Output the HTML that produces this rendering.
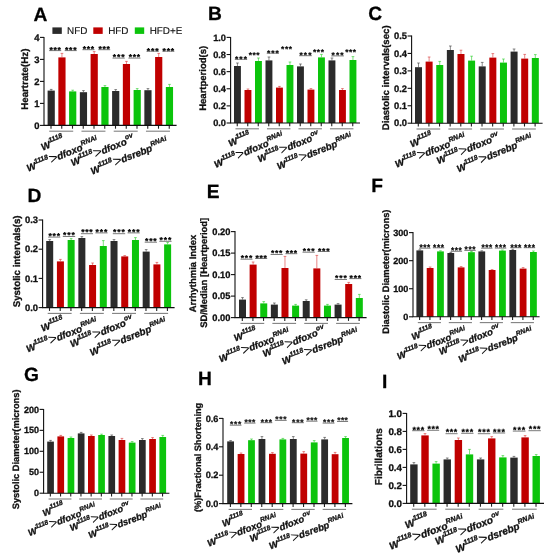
<!DOCTYPE html>
<html lang="en"><head><meta charset="utf-8"><title>Figure</title><style>
html,body{margin:0;padding:0;background:#fff;}
body{width:550px;height:559px;overflow:hidden;}
svg{display:block;font-family:"Liberation Sans",Arial,sans-serif;text-rendering:geometricPrecision;}
.tk,.yl,.xl,.pl{stroke:#111;stroke-width:0.3px;stroke-linejoin:round;}
.pl{font-size:19.2px;font-weight:bold;fill:#000;}
.lt{font-size:9.9px;fill:#111;stroke:#111;stroke-width:0.15px;}
.tk{font-weight:bold;fill:#111;text-anchor:end;}
.sg{font-weight:bold;fill:#000;stroke:#000;stroke-width:0.2px;text-anchor:middle;}
.yl{font-weight:bold;fill:#111;}
.xl{font-weight:bold;font-style:italic;fill:#111;}
.gt{font-style:italic;font-weight:normal;stroke:none;}
</style></head><body>
<svg width="550" height="559" viewBox="0 0 550 559">
<rect width="550" height="559" fill="#fff"/>
<g class="lg">
<rect x="52.4" y="27.4" width="9.4" height="6.5" fill="#2b2b2b"/>
<text x="67" y="34.1" class="lt">NFD</text>
<rect x="93.3" y="27.4" width="9.4" height="6.5" fill="#c00000"/>
<text x="108.2" y="34.1" class="lt">HFD</text>
<rect x="134.8" y="27.4" width="9.4" height="6.5" fill="#0cc40c"/>
<text x="149.7" y="34.1" class="lt">HFD+E</text>
</g>
<g id="pA">
<text class="pl" x="33.4" y="21.2">A</text>
<rect x="47.6" y="90.6" width="7.2" height="34.8" fill="#2b2b2b"/>
<path d="M51.2 90.6V89.4M49.85 89.4H52.55" stroke="#3a3a3a" stroke-width="0.6" fill="none"/>
<path d="M51 125.4v3.3" stroke="#222" stroke-width="1.1"/>
<rect x="58.35" y="57.4" width="7.2" height="68" fill="#c00000"/>
<path d="M61.95 57.4V53.4M60.6 53.4H63.3" stroke="#d63434" stroke-width="0.6" fill="none"/>
<path d="M61.75 125.4v3.3" stroke="#222" stroke-width="1.1"/>
<rect x="69.1" y="91.4" width="7.2" height="34" fill="#0cc40c"/>
<path d="M72.7 91.4V90.2M71.35 90.2H74.05" stroke="#22cc22" stroke-width="0.6" fill="none"/>
<path d="M72.5 125.4v3.3" stroke="#222" stroke-width="1.1"/>
<rect x="79.85" y="92.2" width="7.2" height="33.2" fill="#2b2b2b"/>
<path d="M83.45 92.2V90.6M82.1 90.6H84.8" stroke="#3a3a3a" stroke-width="0.6" fill="none"/>
<path d="M83.25 125.4v3.3" stroke="#222" stroke-width="1.1"/>
<rect x="90.6" y="54" width="7.2" height="71.4" fill="#c00000"/>
<path d="M94.2 54V51.6M92.85 51.6H95.55" stroke="#d63434" stroke-width="0.6" fill="none"/>
<path d="M94 125.4v3.3" stroke="#222" stroke-width="1.1"/>
<rect x="101.35" y="87" width="7.2" height="38.4" fill="#0cc40c"/>
<path d="M104.95 87V85.6M103.6 85.6H106.3" stroke="#22cc22" stroke-width="0.6" fill="none"/>
<path d="M104.75 125.4v3.3" stroke="#222" stroke-width="1.1"/>
<rect x="112.1" y="91" width="7.2" height="34.4" fill="#2b2b2b"/>
<path d="M115.7 91V89.6M114.35 89.6H117.05" stroke="#3a3a3a" stroke-width="0.6" fill="none"/>
<path d="M115.5 125.4v3.3" stroke="#222" stroke-width="1.1"/>
<rect x="122.85" y="64" width="7.2" height="61.4" fill="#c00000"/>
<path d="M126.45 64V61.4M125.1 61.4H127.8" stroke="#d63434" stroke-width="0.6" fill="none"/>
<path d="M126.25 125.4v3.3" stroke="#222" stroke-width="1.1"/>
<rect x="133.6" y="90" width="7.2" height="35.4" fill="#0cc40c"/>
<path d="M137.2 90V88.6M135.85 88.6H138.55" stroke="#22cc22" stroke-width="0.6" fill="none"/>
<path d="M137 125.4v3.3" stroke="#222" stroke-width="1.1"/>
<rect x="144.35" y="90.2" width="7.2" height="35.2" fill="#2b2b2b"/>
<path d="M147.95 90.2V88.6M146.6 88.6H149.3" stroke="#3a3a3a" stroke-width="0.6" fill="none"/>
<path d="M147.75 125.4v3.3" stroke="#222" stroke-width="1.1"/>
<rect x="155.1" y="57" width="7.2" height="68.4" fill="#c00000"/>
<path d="M158.7 57V53.4M157.35 53.4H160.05" stroke="#d63434" stroke-width="0.6" fill="none"/>
<path d="M158.5 125.4v3.3" stroke="#222" stroke-width="1.1"/>
<rect x="165.85" y="87" width="7.2" height="38.4" fill="#0cc40c"/>
<path d="M169.45 87V84.4M168.1 84.4H170.8" stroke="#22cc22" stroke-width="0.6" fill="none"/>
<path d="M169.25 125.4v3.3" stroke="#222" stroke-width="1.1"/>
<path d="M49.2 131.2H73.2" stroke="#808080" stroke-width="1.1"/>
<path d="M81.45 131.2H105.45" stroke="#808080" stroke-width="1.1"/>
<path d="M113.7 131.2H137.7" stroke="#808080" stroke-width="1.1"/>
<path d="M145.95 131.2H169.95" stroke="#808080" stroke-width="1.1"/>
<path d="M44 36.9V125.4H176.6" stroke="#111" stroke-width="1.1" fill="none"/>
<path d="M40 125.4H44" stroke="#111" stroke-width="1.1"/>
<text class="tk" font-size="9.45" x="39.4" y="128.7">0</text>
<path d="M40 103.4H44" stroke="#111" stroke-width="1.1"/>
<text class="tk" font-size="9.45" x="39.4" y="106.7">1</text>
<path d="M40 81.4H44" stroke="#111" stroke-width="1.1"/>
<text class="tk" font-size="9.45" x="39.4" y="84.7">2</text>
<path d="M40 59.4H44" stroke="#111" stroke-width="1.1"/>
<text class="tk" font-size="9.45" x="39.4" y="62.7">3</text>
<path d="M40 37.4H44" stroke="#111" stroke-width="1.1"/>
<text class="tk" font-size="9.45" x="39.4" y="40.7">4</text>
<text class="sg" font-size="8.6" x="55.15" y="53.1" textLength="11.5">***</text>
<path d="M49.1 50.6H61.2" stroke="#333" stroke-width="0.65"/>
<text class="sg" font-size="8.6" x="70.75" y="53.1" textLength="11.5">***</text>
<path d="M64.7 50.6H76.8" stroke="#333" stroke-width="0.65"/>
<text class="sg" font-size="8.6" x="88.45" y="52.1" textLength="11.5">***</text>
<path d="M82.4 49.7H94.5" stroke="#333" stroke-width="0.65"/>
<text class="sg" font-size="8.6" x="104.25" y="52.1" textLength="11.3">***</text>
<path d="M98.3 49.7H110.2" stroke="#333" stroke-width="0.65"/>
<text class="sg" font-size="8.6" x="118.65" y="60.4" textLength="11.7">***</text>
<path d="M112.5 58.1H124.8" stroke="#333" stroke-width="0.65"/>
<text class="sg" font-size="8.6" x="134.45" y="60.4" textLength="11.5">***</text>
<path d="M128.4 58.1H140.5" stroke="#333" stroke-width="0.65"/>
<text class="sg" font-size="8.6" x="152.65" y="53.7" textLength="11.9">***</text>
<path d="M146.4 51.2H158.9" stroke="#333" stroke-width="0.65"/>
<text class="sg" font-size="8.6" x="168.35" y="53.7" textLength="11.5">***</text>
<path d="M162.3 51.2H174.4" stroke="#333" stroke-width="0.65"/>
<text class="yl" font-size="9.75" transform="translate(27.9 79.2) rotate(-90)" text-anchor="middle">Heartrate(Hz)</text>
<text class="xl" font-size="9.83" transform="translate(64.6 141.6) rotate(-23)" text-anchor="end">W<tspan font-size="6.93" dy="-4.75">1118</tspan></text>
<text class="xl" font-size="9.83" transform="translate(99.1 143.9) rotate(-21.5)" text-anchor="end">W<tspan font-size="6.93" dy="-4.75">1118</tspan><tspan class="gt" font-size="14.72" dx="0.28" dy="5.95">&gt;</tspan><tspan dy="-1.2">dfoxo</tspan><tspan font-size="6.93" dy="-4.75">RNAi</tspan></text>
<text class="xl" font-size="9.83" transform="translate(135 141.1) rotate(-22)" text-anchor="end">W<tspan font-size="6.93" dy="-4.75">1118</tspan><tspan class="gt" font-size="14.72" dx="0.28" dy="5.95">&gt;</tspan><tspan dy="-1.2">dfoxo</tspan><tspan font-size="6.93" dy="-4.75">ov</tspan></text>
<text class="xl" font-size="9.83" transform="translate(168.7 144.6) rotate(-21.5)" text-anchor="end">W<tspan font-size="6.93" dy="-4.75">1118</tspan><tspan class="gt" font-size="14.72" dx="0.28" dy="5.95">&gt;</tspan><tspan dy="-1.2">dsrebp</tspan><tspan font-size="6.93" dy="-4.75">RNAi</tspan></text>
</g>
<g id="pB">
<text class="pl" x="207.9" y="20.4">B</text>
<rect x="234" y="66" width="6.9" height="57" fill="#2b2b2b"/>
<path d="M237.45 66V63M236.1 63H238.8" stroke="#3a3a3a" stroke-width="0.6" fill="none"/>
<path d="M237.25 123v3.3" stroke="#222" stroke-width="1.1"/>
<rect x="244.5" y="90" width="6.9" height="33" fill="#c00000"/>
<path d="M247.95 90V89M246.6 89H249.3" stroke="#d63434" stroke-width="0.6" fill="none"/>
<path d="M247.75 123v3.3" stroke="#222" stroke-width="1.1"/>
<rect x="255" y="61" width="6.9" height="62" fill="#0cc40c"/>
<path d="M258.45 61V58M257.1 58H259.8" stroke="#22cc22" stroke-width="0.6" fill="none"/>
<path d="M258.25 123v3.3" stroke="#222" stroke-width="1.1"/>
<rect x="265.5" y="60.4" width="6.9" height="62.6" fill="#2b2b2b"/>
<path d="M268.95 60.4V57M267.6 57H270.3" stroke="#3a3a3a" stroke-width="0.6" fill="none"/>
<path d="M268.75 123v3.3" stroke="#222" stroke-width="1.1"/>
<rect x="276" y="87.6" width="6.9" height="35.4" fill="#c00000"/>
<path d="M279.45 87.6V86.4M278.1 86.4H280.8" stroke="#d63434" stroke-width="0.6" fill="none"/>
<path d="M279.25 123v3.3" stroke="#222" stroke-width="1.1"/>
<rect x="286.5" y="65" width="6.9" height="58" fill="#0cc40c"/>
<path d="M289.95 65V62M288.6 62H291.3" stroke="#22cc22" stroke-width="0.6" fill="none"/>
<path d="M289.75 123v3.3" stroke="#222" stroke-width="1.1"/>
<rect x="297" y="66.4" width="6.9" height="56.6" fill="#2b2b2b"/>
<path d="M300.45 66.4V64M299.1 64H301.8" stroke="#3a3a3a" stroke-width="0.6" fill="none"/>
<path d="M300.25 123v3.3" stroke="#222" stroke-width="1.1"/>
<rect x="307.5" y="89.6" width="6.9" height="33.4" fill="#c00000"/>
<path d="M310.95 89.6V88.6M309.6 88.6H312.3" stroke="#d63434" stroke-width="0.6" fill="none"/>
<path d="M310.75 123v3.3" stroke="#222" stroke-width="1.1"/>
<rect x="318" y="57.4" width="6.9" height="65.6" fill="#0cc40c"/>
<path d="M321.45 57.4V54.4M320.1 54.4H322.8" stroke="#22cc22" stroke-width="0.6" fill="none"/>
<path d="M321.25 123v3.3" stroke="#222" stroke-width="1.1"/>
<rect x="328.5" y="60.4" width="6.9" height="62.6" fill="#2b2b2b"/>
<path d="M331.95 60.4V58M330.6 58H333.3" stroke="#3a3a3a" stroke-width="0.6" fill="none"/>
<path d="M331.75 123v3.3" stroke="#222" stroke-width="1.1"/>
<rect x="339" y="90" width="6.9" height="33" fill="#c00000"/>
<path d="M342.45 90V88.6M341.1 88.6H343.8" stroke="#d63434" stroke-width="0.6" fill="none"/>
<path d="M342.25 123v3.3" stroke="#222" stroke-width="1.1"/>
<rect x="349.5" y="60" width="6.9" height="63" fill="#0cc40c"/>
<path d="M352.95 60V56.6M351.6 56.6H354.3" stroke="#22cc22" stroke-width="0.6" fill="none"/>
<path d="M352.75 123v3.3" stroke="#222" stroke-width="1.1"/>
<path d="M235.45 128.8H258.95" stroke="#808080" stroke-width="1.1"/>
<path d="M266.95 128.8H290.45" stroke="#808080" stroke-width="1.1"/>
<path d="M298.45 128.8H321.95" stroke="#808080" stroke-width="1.1"/>
<path d="M329.95 128.8H353.45" stroke="#808080" stroke-width="1.1"/>
<path d="M230.6 36.9V123H360" stroke="#111" stroke-width="1.1" fill="none"/>
<path d="M226.6 123H230.6" stroke="#111" stroke-width="1.1"/>
<text class="tk" font-size="9.23" x="226" y="126.22">0.0</text>
<path d="M226.6 105.88H230.6" stroke="#111" stroke-width="1.1"/>
<text class="tk" font-size="9.23" x="226" y="109.1">0.2</text>
<path d="M226.6 88.76H230.6" stroke="#111" stroke-width="1.1"/>
<text class="tk" font-size="9.23" x="226" y="91.98">0.4</text>
<path d="M226.6 71.64H230.6" stroke="#111" stroke-width="1.1"/>
<text class="tk" font-size="9.23" x="226" y="74.86">0.6</text>
<path d="M226.6 54.52H230.6" stroke="#111" stroke-width="1.1"/>
<text class="tk" font-size="9.23" x="226" y="57.74">0.8</text>
<path d="M226.6 37.4H230.6" stroke="#111" stroke-width="1.1"/>
<text class="tk" font-size="9.23" x="226" y="40.62">1.0</text>
<text class="sg" font-size="8.4" x="241" y="61.6" textLength="11.8">***</text>
<path d="M234.8 59.3H247.2" stroke="#333" stroke-width="0.65"/>
<text class="sg" font-size="8.4" x="254.2" y="58" textLength="10.8">***</text>
<text class="sg" font-size="8.4" x="272.85" y="55.5" textLength="11.7">***</text>
<path d="M266.7 53.2H279" stroke="#333" stroke-width="0.65"/>
<text class="sg" font-size="8.4" x="286.55" y="52.3" textLength="11.1">***</text>
<text class="sg" font-size="8.4" x="305.45" y="57.8" textLength="12.1">***</text>
<path d="M299.1 55.7H311.8" stroke="#333" stroke-width="0.65"/>
<text class="sg" font-size="8.4" x="318.45" y="54.8" textLength="10.9">***</text>
<text class="sg" font-size="8.4" x="337.55" y="57.8" textLength="12.1">***</text>
<path d="M331.2 55.9H343.9" stroke="#333" stroke-width="0.65"/>
<text class="sg" font-size="8.4" x="350.65" y="55.2" textLength="10.9">***</text>
<text class="yl" font-size="9.52" transform="translate(205.7 78.3) rotate(-90)" text-anchor="middle">Heartperiod(s)</text>
<text class="xl" font-size="9.6" transform="translate(251.3 138) rotate(-22.5)" text-anchor="end">W<tspan font-size="6.77" dy="-4.64">1118</tspan></text>
<text class="xl" font-size="9.6" transform="translate(284.6 139.4) rotate(-22.5)" text-anchor="end">W<tspan font-size="6.77" dy="-4.64">1118</tspan><tspan class="gt" font-size="14.38" dx="0.28" dy="5.84">&gt;</tspan><tspan dy="-1.2">dfoxo</tspan><tspan font-size="6.77" dy="-4.64">RNAi</tspan></text>
<text class="xl" font-size="9.6" transform="translate(320.2 137.8) rotate(-22)" text-anchor="end">W<tspan font-size="6.77" dy="-4.64">1118</tspan><tspan class="gt" font-size="14.38" dx="0.28" dy="5.84">&gt;</tspan><tspan dy="-1.2">dfoxo</tspan><tspan font-size="6.77" dy="-4.64">ov</tspan></text>
<text class="xl" font-size="9.6" transform="translate(353.3 140.4) rotate(-21.5)" text-anchor="end">W<tspan font-size="6.77" dy="-4.64">1118</tspan><tspan class="gt" font-size="14.38" dx="0.28" dy="5.84">&gt;</tspan><tspan dy="-1.2">dsrebp</tspan><tspan font-size="6.77" dy="-4.64">RNAi</tspan></text>
</g>
<g id="pC">
<text class="pl" x="368.3" y="19.5">C</text>
<rect x="415" y="67.2" width="7" height="56" fill="#2b2b2b"/>
<path d="M418.5 67.2V63M417.15 63H419.85" stroke="#3a3a3a" stroke-width="0.6" fill="none"/>
<path d="M418.3 123.2v3.3" stroke="#222" stroke-width="1.1"/>
<rect x="425.62" y="61.6" width="7" height="61.6" fill="#c00000"/>
<path d="M429.12 61.6V57M427.77 57H430.47" stroke="#d63434" stroke-width="0.6" fill="none"/>
<path d="M428.92 123.2v3.3" stroke="#222" stroke-width="1.1"/>
<rect x="436.24" y="65" width="7" height="58.2" fill="#0cc40c"/>
<path d="M439.74 65V61.4M438.39 61.4H441.09" stroke="#22cc22" stroke-width="0.6" fill="none"/>
<path d="M439.54 123.2v3.3" stroke="#222" stroke-width="1.1"/>
<rect x="446.86" y="50" width="7" height="73.2" fill="#2b2b2b"/>
<path d="M450.36 50V46M449.01 46H451.71" stroke="#3a3a3a" stroke-width="0.6" fill="none"/>
<path d="M450.16 123.2v3.3" stroke="#222" stroke-width="1.1"/>
<rect x="457.48" y="54" width="7" height="69.2" fill="#c00000"/>
<path d="M460.98 54V50.2M459.63 50.2H462.33" stroke="#d63434" stroke-width="0.6" fill="none"/>
<path d="M460.78 123.2v3.3" stroke="#222" stroke-width="1.1"/>
<rect x="468.1" y="60.6" width="7" height="62.6" fill="#0cc40c"/>
<path d="M471.6 60.6V56.2M470.25 56.2H472.95" stroke="#22cc22" stroke-width="0.6" fill="none"/>
<path d="M471.4 123.2v3.3" stroke="#222" stroke-width="1.1"/>
<rect x="478.72" y="66.4" width="7" height="56.8" fill="#2b2b2b"/>
<path d="M482.22 66.4V62.4M480.87 62.4H483.57" stroke="#3a3a3a" stroke-width="0.6" fill="none"/>
<path d="M482.02 123.2v3.3" stroke="#222" stroke-width="1.1"/>
<rect x="489.34" y="57.6" width="7" height="65.6" fill="#c00000"/>
<path d="M492.84 57.6V53.6M491.49 53.6H494.19" stroke="#d63434" stroke-width="0.6" fill="none"/>
<path d="M492.64 123.2v3.3" stroke="#222" stroke-width="1.1"/>
<rect x="499.96" y="62.6" width="7" height="60.6" fill="#0cc40c"/>
<path d="M503.46 62.6V59M502.11 59H504.81" stroke="#22cc22" stroke-width="0.6" fill="none"/>
<path d="M503.26 123.2v3.3" stroke="#222" stroke-width="1.1"/>
<rect x="510.58" y="51.6" width="7" height="71.6" fill="#2b2b2b"/>
<path d="M514.08 51.6V49M512.73 49H515.43" stroke="#3a3a3a" stroke-width="0.6" fill="none"/>
<path d="M513.88 123.2v3.3" stroke="#222" stroke-width="1.1"/>
<rect x="521.2" y="58.6" width="7" height="64.6" fill="#c00000"/>
<path d="M524.7 58.6V54.4M523.35 54.4H526.05" stroke="#d63434" stroke-width="0.6" fill="none"/>
<path d="M524.5 123.2v3.3" stroke="#222" stroke-width="1.1"/>
<rect x="531.82" y="58" width="7" height="65.2" fill="#0cc40c"/>
<path d="M535.32 58V54.6M533.97 54.6H536.67" stroke="#22cc22" stroke-width="0.6" fill="none"/>
<path d="M535.12 123.2v3.3" stroke="#222" stroke-width="1.1"/>
<path d="M416.5 129H440.24" stroke="#808080" stroke-width="1.1"/>
<path d="M448.36 129H472.1" stroke="#808080" stroke-width="1.1"/>
<path d="M480.22 129H503.96" stroke="#808080" stroke-width="1.1"/>
<path d="M512.08 129H535.82" stroke="#808080" stroke-width="1.1"/>
<path d="M411.6 35.5V123.2H542.6" stroke="#111" stroke-width="1.1" fill="none"/>
<path d="M407.6 123.2H411.6" stroke="#111" stroke-width="1.1"/>
<text class="tk" font-size="9.34" x="407" y="126.46">0.0</text>
<path d="M407.6 105.76H411.6" stroke="#111" stroke-width="1.1"/>
<text class="tk" font-size="9.34" x="407" y="109.02">0.1</text>
<path d="M407.6 88.32H411.6" stroke="#111" stroke-width="1.1"/>
<text class="tk" font-size="9.34" x="407" y="91.58">0.2</text>
<path d="M407.6 70.88H411.6" stroke="#111" stroke-width="1.1"/>
<text class="tk" font-size="9.34" x="407" y="74.14">0.3</text>
<path d="M407.6 53.44H411.6" stroke="#111" stroke-width="1.1"/>
<text class="tk" font-size="9.34" x="407" y="56.7">0.4</text>
<path d="M407.6 36H411.6" stroke="#111" stroke-width="1.1"/>
<text class="tk" font-size="9.34" x="407" y="39.26">0.5</text>
<text class="yl" font-size="9.63" transform="translate(388.6 77.8) rotate(-90)" text-anchor="middle">Diastolic intervals(sec)</text>
<text class="xl" font-size="9.71" transform="translate(433.3 138.6) rotate(-22.5)" text-anchor="end">W<tspan font-size="6.85" dy="-4.69">1118</tspan></text>
<text class="xl" font-size="9.71" transform="translate(466.7 140.7) rotate(-21)" text-anchor="end">W<tspan font-size="6.85" dy="-4.69">1118</tspan><tspan class="gt" font-size="14.55" dx="0.28" dy="5.89">&gt;</tspan><tspan dy="-1.2">dfoxo</tspan><tspan font-size="6.85" dy="-4.69">RNAi</tspan></text>
<text class="xl" font-size="9.71" transform="translate(500.1 139.3) rotate(-22)" text-anchor="end">W<tspan font-size="6.85" dy="-4.69">1118</tspan><tspan class="gt" font-size="14.55" dx="0.28" dy="5.89">&gt;</tspan><tspan dy="-1.2">dfoxo</tspan><tspan font-size="6.85" dy="-4.69">ov</tspan></text>
<text class="xl" font-size="9.71" transform="translate(533.5 141.3) rotate(-22.5)" text-anchor="end">W<tspan font-size="6.85" dy="-4.69">1118</tspan><tspan class="gt" font-size="14.55" dx="0.28" dy="5.89">&gt;</tspan><tspan dy="-1.2">dsrebp</tspan><tspan font-size="6.85" dy="-4.69">RNAi</tspan></text>
</g>
<g id="pD">
<text class="pl" x="27.5" y="201.7">D</text>
<rect x="46.2" y="241" width="7" height="66.6" fill="#2b2b2b"/>
<path d="M49.7 241V239.6M48.35 239.6H51.05" stroke="#3a3a3a" stroke-width="0.6" fill="none"/>
<path d="M49.5 307.6v3.3" stroke="#222" stroke-width="1.1"/>
<rect x="56.92" y="261.4" width="7" height="46.2" fill="#c00000"/>
<path d="M60.42 261.4V259.4M59.07 259.4H61.77" stroke="#d63434" stroke-width="0.6" fill="none"/>
<path d="M60.22 307.6v3.3" stroke="#222" stroke-width="1.1"/>
<rect x="67.64" y="240" width="7" height="67.6" fill="#0cc40c"/>
<path d="M71.14 240V238.6M69.79 238.6H72.49" stroke="#22cc22" stroke-width="0.6" fill="none"/>
<path d="M70.94 307.6v3.3" stroke="#222" stroke-width="1.1"/>
<rect x="78.36" y="238" width="7" height="69.6" fill="#2b2b2b"/>
<path d="M81.86 238V236.6M80.51 236.6H83.21" stroke="#3a3a3a" stroke-width="0.6" fill="none"/>
<path d="M81.66 307.6v3.3" stroke="#222" stroke-width="1.1"/>
<rect x="89.08" y="265" width="7" height="42.6" fill="#c00000"/>
<path d="M92.58 265V263M91.23 263H93.93" stroke="#d63434" stroke-width="0.6" fill="none"/>
<path d="M92.38 307.6v3.3" stroke="#222" stroke-width="1.1"/>
<rect x="99.8" y="246" width="7" height="61.6" fill="#0cc40c"/>
<path d="M103.3 246V240.6M101.95 240.6H104.65" stroke="#22cc22" stroke-width="0.6" fill="none"/>
<path d="M103.1 307.6v3.3" stroke="#222" stroke-width="1.1"/>
<rect x="110.52" y="241" width="7" height="66.6" fill="#2b2b2b"/>
<path d="M114.02 241V239.6M112.67 239.6H115.37" stroke="#3a3a3a" stroke-width="0.6" fill="none"/>
<path d="M113.82 307.6v3.3" stroke="#222" stroke-width="1.1"/>
<rect x="121.24" y="256.4" width="7" height="51.2" fill="#c00000"/>
<path d="M124.74 256.4V255.6M123.39 255.6H126.09" stroke="#d63434" stroke-width="0.6" fill="none"/>
<path d="M124.54 307.6v3.3" stroke="#222" stroke-width="1.1"/>
<rect x="131.96" y="240" width="7" height="67.6" fill="#0cc40c"/>
<path d="M135.46 240V237.6M134.11 237.6H136.81" stroke="#22cc22" stroke-width="0.6" fill="none"/>
<path d="M135.26 307.6v3.3" stroke="#222" stroke-width="1.1"/>
<rect x="142.68" y="251.6" width="7" height="56" fill="#2b2b2b"/>
<path d="M146.18 251.6V249.6M144.83 249.6H147.53" stroke="#3a3a3a" stroke-width="0.6" fill="none"/>
<path d="M145.98 307.6v3.3" stroke="#222" stroke-width="1.1"/>
<rect x="153.4" y="264.4" width="7" height="43.2" fill="#c00000"/>
<path d="M156.9 264.4V262.4M155.55 262.4H158.25" stroke="#d63434" stroke-width="0.6" fill="none"/>
<path d="M156.7 307.6v3.3" stroke="#222" stroke-width="1.1"/>
<rect x="164.12" y="244.4" width="7" height="63.2" fill="#0cc40c"/>
<path d="M167.62 244.4V242.4M166.27 242.4H168.97" stroke="#22cc22" stroke-width="0.6" fill="none"/>
<path d="M167.42 307.6v3.3" stroke="#222" stroke-width="1.1"/>
<path d="M47.7 313.4H71.64" stroke="#808080" stroke-width="1.1"/>
<path d="M79.86 313.4H103.8" stroke="#808080" stroke-width="1.1"/>
<path d="M112.02 313.4H135.96" stroke="#808080" stroke-width="1.1"/>
<path d="M144.18 313.4H168.12" stroke="#808080" stroke-width="1.1"/>
<path d="M42.6 219.5V307.6H174.6" stroke="#111" stroke-width="1.1" fill="none"/>
<path d="M38.6 307.6H42.6" stroke="#111" stroke-width="1.1"/>
<text class="tk" font-size="9.42" x="38" y="310.89">0.0</text>
<path d="M38.6 278.4H42.6" stroke="#111" stroke-width="1.1"/>
<text class="tk" font-size="9.42" x="38" y="281.69">0.1</text>
<path d="M38.6 249.2H42.6" stroke="#111" stroke-width="1.1"/>
<text class="tk" font-size="9.42" x="38" y="252.49">0.2</text>
<path d="M38.6 220H42.6" stroke="#111" stroke-width="1.1"/>
<text class="tk" font-size="9.42" x="38" y="223.29">0.3</text>
<text class="sg" font-size="8.58" x="54.2" y="238.99" textLength="11.6">***</text>
<path d="M48.1 237.1H60.3" stroke="#333" stroke-width="0.65"/>
<text class="sg" font-size="8.58" x="69" y="238.39" textLength="11.8">***</text>
<path d="M62.8 236.5H75.2" stroke="#333" stroke-width="0.65"/>
<text class="sg" font-size="8.58" x="86.95" y="235.49" textLength="11.5">***</text>
<path d="M80.9 233.7H93" stroke="#333" stroke-width="0.65"/>
<text class="sg" font-size="8.58" x="101.45" y="234.99" textLength="11.7">***</text>
<path d="M95.3 232.9H107.6" stroke="#333" stroke-width="0.65"/>
<text class="sg" font-size="8.58" x="119" y="235.49" textLength="11.8">***</text>
<path d="M112.8 233.7H125.2" stroke="#333" stroke-width="0.65"/>
<text class="sg" font-size="8.58" x="133.65" y="234.99" textLength="11.7">***</text>
<path d="M127.5 232.9H139.8" stroke="#333" stroke-width="0.65"/>
<text class="sg" font-size="8.58" x="150.85" y="244.09" textLength="11.7">***</text>
<path d="M144.7 242.2H157" stroke="#333" stroke-width="0.65"/>
<text class="sg" font-size="8.58" x="165.45" y="243.29" textLength="11.7">***</text>
<path d="M159.3 241.3H171.6" stroke="#333" stroke-width="0.65"/>
<text class="yl" font-size="9.72" transform="translate(19.6 261.4) rotate(-90)" text-anchor="middle">Systolic intervals(s)</text>
<text class="xl" font-size="9.81" transform="translate(64.5 323.3) rotate(-21)" text-anchor="end">W<tspan font-size="6.92" dy="-4.74">1118</tspan></text>
<text class="xl" font-size="9.81" transform="translate(98.6 325.3) rotate(-21)" text-anchor="end">W<tspan font-size="6.92" dy="-4.74">1118</tspan><tspan class="gt" font-size="14.68" dx="0.28" dy="5.94">&gt;</tspan><tspan dy="-1.2">dfoxo</tspan><tspan font-size="6.92" dy="-4.74">RNAi</tspan></text>
<text class="xl" font-size="9.81" transform="translate(134.1 322.4) rotate(-22)" text-anchor="end">W<tspan font-size="6.92" dy="-4.74">1118</tspan><tspan class="gt" font-size="14.68" dx="0.28" dy="5.94">&gt;</tspan><tspan dy="-1.2">dfoxo</tspan><tspan font-size="6.92" dy="-4.74">ov</tspan></text>
<text class="xl" font-size="9.81" transform="translate(167.6 325.2) rotate(-22)" text-anchor="end">W<tspan font-size="6.92" dy="-4.74">1118</tspan><tspan class="gt" font-size="14.68" dx="0.28" dy="5.94">&gt;</tspan><tspan dy="-1.2">dsrebp</tspan><tspan font-size="6.92" dy="-4.74">RNAi</tspan></text>
</g>
<g id="pE">
<text class="pl" x="206.8" y="197.9">E</text>
<rect x="239" y="299.6" width="7" height="18" fill="#2b2b2b"/>
<path d="M242.5 299.6V297.6M241.15 297.6H243.85" stroke="#3a3a3a" stroke-width="0.6" fill="none"/>
<path d="M242.3 317.6v3.3" stroke="#222" stroke-width="1.1"/>
<rect x="249.62" y="264.6" width="7" height="53" fill="#c00000"/>
<path d="M253.12 264.6V262M251.77 262H254.47" stroke="#d63434" stroke-width="0.6" fill="none"/>
<path d="M252.92 317.6v3.3" stroke="#222" stroke-width="1.1"/>
<rect x="260.24" y="303.4" width="7" height="14.2" fill="#0cc40c"/>
<path d="M263.74 303.4V301.6M262.39 301.6H265.09" stroke="#22cc22" stroke-width="0.6" fill="none"/>
<path d="M263.54 317.6v3.3" stroke="#222" stroke-width="1.1"/>
<rect x="270.86" y="304.6" width="7" height="13" fill="#2b2b2b"/>
<path d="M274.36 304.6V303M273.01 303H275.71" stroke="#3a3a3a" stroke-width="0.6" fill="none"/>
<path d="M274.16 317.6v3.3" stroke="#222" stroke-width="1.1"/>
<rect x="281.48" y="268" width="7" height="49.6" fill="#c00000"/>
<path d="M284.98 268V256.4M283.63 256.4H286.33" stroke="#d63434" stroke-width="0.6" fill="none"/>
<path d="M284.78 317.6v3.3" stroke="#222" stroke-width="1.1"/>
<rect x="292.1" y="305.6" width="7" height="12" fill="#0cc40c"/>
<path d="M295.6 305.6V304.4M294.25 304.4H296.95" stroke="#22cc22" stroke-width="0.6" fill="none"/>
<path d="M295.4 317.6v3.3" stroke="#222" stroke-width="1.1"/>
<rect x="302.72" y="301" width="7" height="16.6" fill="#2b2b2b"/>
<path d="M306.22 301V299.8M304.87 299.8H307.57" stroke="#3a3a3a" stroke-width="0.6" fill="none"/>
<path d="M306.02 317.6v3.3" stroke="#222" stroke-width="1.1"/>
<rect x="313.34" y="268.4" width="7" height="49.2" fill="#c00000"/>
<path d="M316.84 268.4V255.4M315.49 255.4H318.19" stroke="#d63434" stroke-width="0.6" fill="none"/>
<path d="M316.64 317.6v3.3" stroke="#222" stroke-width="1.1"/>
<rect x="323.96" y="305.6" width="7" height="12" fill="#0cc40c"/>
<path d="M327.46 305.6V304.4M326.11 304.4H328.81" stroke="#22cc22" stroke-width="0.6" fill="none"/>
<path d="M327.26 317.6v3.3" stroke="#222" stroke-width="1.1"/>
<rect x="334.58" y="304.6" width="7" height="13" fill="#2b2b2b"/>
<path d="M338.08 304.6V303.6M336.73 303.6H339.43" stroke="#3a3a3a" stroke-width="0.6" fill="none"/>
<path d="M337.88 317.6v3.3" stroke="#222" stroke-width="1.1"/>
<rect x="345.2" y="284" width="7" height="33.6" fill="#c00000"/>
<path d="M348.7 284V282.4M347.35 282.4H350.05" stroke="#d63434" stroke-width="0.6" fill="none"/>
<path d="M348.5 317.6v3.3" stroke="#222" stroke-width="1.1"/>
<rect x="355.82" y="298" width="7" height="19.6" fill="#0cc40c"/>
<path d="M359.32 298V294.4M357.97 294.4H360.67" stroke="#22cc22" stroke-width="0.6" fill="none"/>
<path d="M359.12 317.6v3.3" stroke="#222" stroke-width="1.1"/>
<path d="M240.5 323.4H264.24" stroke="#808080" stroke-width="1.1"/>
<path d="M272.36 323.4H296.1" stroke="#808080" stroke-width="1.1"/>
<path d="M304.22 323.4H327.96" stroke="#808080" stroke-width="1.1"/>
<path d="M336.08 323.4H359.82" stroke="#808080" stroke-width="1.1"/>
<path d="M235 231.1V317.6H366.6" stroke="#111" stroke-width="1.1" fill="none"/>
<path d="M231 317.6H235" stroke="#111" stroke-width="1.1"/>
<text class="tk" font-size="9.34" x="230.4" y="320.86">0.00</text>
<path d="M231 296.1H235" stroke="#111" stroke-width="1.1"/>
<text class="tk" font-size="9.34" x="230.4" y="299.36">0.05</text>
<path d="M231 274.6H235" stroke="#111" stroke-width="1.1"/>
<text class="tk" font-size="9.34" x="230.4" y="277.86">0.10</text>
<path d="M231 253.1H235" stroke="#111" stroke-width="1.1"/>
<text class="tk" font-size="9.34" x="230.4" y="256.36">0.15</text>
<path d="M231 231.6H235" stroke="#111" stroke-width="1.1"/>
<text class="tk" font-size="9.34" x="230.4" y="234.86">0.20</text>
<text class="sg" font-size="8.5" x="246.5" y="261.15" textLength="11.4">***</text>
<path d="M240.5 259.2H252.5" stroke="#333" stroke-width="0.65"/>
<text class="sg" font-size="8.5" x="261.15" y="260.85" textLength="11.5">***</text>
<path d="M255.1 258.5H267.2" stroke="#333" stroke-width="0.65"/>
<text class="sg" font-size="8.5" x="276.65" y="256.35" textLength="11.5">***</text>
<path d="M270.6 254.5H282.7" stroke="#333" stroke-width="0.65"/>
<text class="sg" font-size="8.5" x="291.35" y="255.95" textLength="11.3">***</text>
<path d="M285.4 253.7H297.3" stroke="#333" stroke-width="0.65"/>
<text class="sg" font-size="8.5" x="308.65" y="254.05" textLength="11.7">***</text>
<path d="M302.5 252.2H314.8" stroke="#333" stroke-width="0.65"/>
<text class="sg" font-size="8.5" x="323.75" y="253.65" textLength="11.5">***</text>
<path d="M317.7 251.5H329.8" stroke="#333" stroke-width="0.65"/>
<text class="sg" font-size="8.5" x="340.85" y="281.25" textLength="11.7">***</text>
<path d="M334.7 279.5H347" stroke="#333" stroke-width="0.65"/>
<text class="sg" font-size="8.5" x="355.35" y="280.75" textLength="11.5">***</text>
<path d="M349.3 278.6H361.4" stroke="#333" stroke-width="0.65"/>
<text class="yl" font-size="9.45" transform="translate(196.2 273.5) rotate(-90)" text-anchor="middle">Arrhythmia Index</text>
<text class="yl" font-size="9.45" transform="translate(207.1 272.8) rotate(-90)" text-anchor="middle">SD/Median [Heartperiod]</text>
<text class="xl" font-size="9.71" transform="translate(257.4 333.8) rotate(-19.5)" text-anchor="end">W<tspan font-size="6.85" dy="-4.69">1118</tspan></text>
<text class="xl" font-size="9.71" transform="translate(290.7 335.6) rotate(-21)" text-anchor="end">W<tspan font-size="6.85" dy="-4.69">1118</tspan><tspan class="gt" font-size="14.55" dx="0.28" dy="5.89">&gt;</tspan><tspan dy="-1.2">dfoxo</tspan><tspan font-size="6.85" dy="-4.69">RNAi</tspan></text>
<text class="xl" font-size="9.71" transform="translate(326 332.4) rotate(-22)" text-anchor="end">W<tspan font-size="6.85" dy="-4.69">1118</tspan><tspan class="gt" font-size="14.55" dx="0.28" dy="5.89">&gt;</tspan><tspan dy="-1.2">dfoxo</tspan><tspan font-size="6.85" dy="-4.69">ov</tspan></text>
<text class="xl" font-size="9.71" transform="translate(359.4 335.6) rotate(-21)" text-anchor="end">W<tspan font-size="6.85" dy="-4.69">1118</tspan><tspan class="gt" font-size="14.55" dx="0.28" dy="5.89">&gt;</tspan><tspan dy="-1.2">dsrebp</tspan><tspan font-size="6.85" dy="-4.69">RNAi</tspan></text>
</g>
<g id="pF">
<text class="pl" x="371.2" y="192.1">F</text>
<rect x="416.4" y="250.4" width="6.8" height="66.4" fill="#2b2b2b"/>
<path d="M419.8 250.4V249.8M418.45 249.8H421.15" stroke="#3a3a3a" stroke-width="0.6" fill="none"/>
<path d="M419.6 316.8v3.3" stroke="#222" stroke-width="1.1"/>
<rect x="426.73" y="268" width="6.8" height="48.8" fill="#c00000"/>
<path d="M430.13 268V267M428.78 267H431.48" stroke="#d63434" stroke-width="0.6" fill="none"/>
<path d="M429.93 316.8v3.3" stroke="#222" stroke-width="1.1"/>
<rect x="437.06" y="251.4" width="6.8" height="65.4" fill="#0cc40c"/>
<path d="M440.46 251.4V250.8M439.11 250.8H441.81" stroke="#22cc22" stroke-width="0.6" fill="none"/>
<path d="M440.26 316.8v3.3" stroke="#222" stroke-width="1.1"/>
<rect x="447.39" y="253" width="6.8" height="63.8" fill="#2b2b2b"/>
<path d="M450.79 253V252.4M449.44 252.4H452.14" stroke="#3a3a3a" stroke-width="0.6" fill="none"/>
<path d="M450.59 316.8v3.3" stroke="#222" stroke-width="1.1"/>
<rect x="457.72" y="267.4" width="6.8" height="49.4" fill="#c00000"/>
<path d="M461.12 267.4V266.6M459.77 266.6H462.47" stroke="#d63434" stroke-width="0.6" fill="none"/>
<path d="M460.92 316.8v3.3" stroke="#222" stroke-width="1.1"/>
<rect x="468.05" y="252.2" width="6.8" height="64.6" fill="#0cc40c"/>
<path d="M471.45 252.2V251.4M470.1 251.4H472.8" stroke="#22cc22" stroke-width="0.6" fill="none"/>
<path d="M471.25 316.8v3.3" stroke="#222" stroke-width="1.1"/>
<rect x="478.38" y="251.4" width="6.8" height="65.4" fill="#2b2b2b"/>
<path d="M481.78 251.4V250.8M480.43 250.8H483.13" stroke="#3a3a3a" stroke-width="0.6" fill="none"/>
<path d="M481.58 316.8v3.3" stroke="#222" stroke-width="1.1"/>
<rect x="488.71" y="270" width="6.8" height="46.8" fill="#c00000"/>
<path d="M492.11 270V269.6M490.76 269.6H493.46" stroke="#d63434" stroke-width="0.6" fill="none"/>
<path d="M491.91 316.8v3.3" stroke="#222" stroke-width="1.1"/>
<rect x="499.04" y="250.6" width="6.8" height="66.2" fill="#0cc40c"/>
<path d="M502.44 250.6V250M501.09 250H503.79" stroke="#22cc22" stroke-width="0.6" fill="none"/>
<path d="M502.24 316.8v3.3" stroke="#222" stroke-width="1.1"/>
<rect x="509.37" y="250" width="6.8" height="66.8" fill="#2b2b2b"/>
<path d="M512.77 250V249.2M511.42 249.2H514.12" stroke="#3a3a3a" stroke-width="0.6" fill="none"/>
<path d="M512.57 316.8v3.3" stroke="#222" stroke-width="1.1"/>
<rect x="519.7" y="268.6" width="6.8" height="48.2" fill="#c00000"/>
<path d="M523.1 268.6V267.6M521.75 267.6H524.45" stroke="#d63434" stroke-width="0.6" fill="none"/>
<path d="M522.9 316.8v3.3" stroke="#222" stroke-width="1.1"/>
<rect x="530.03" y="252" width="6.8" height="64.8" fill="#0cc40c"/>
<path d="M533.43 252V251M532.08 251H534.78" stroke="#22cc22" stroke-width="0.6" fill="none"/>
<path d="M533.23 316.8v3.3" stroke="#222" stroke-width="1.1"/>
<path d="M417.8 322.6H440.96" stroke="#808080" stroke-width="1.1"/>
<path d="M448.79 322.6H471.95" stroke="#808080" stroke-width="1.1"/>
<path d="M479.78 322.6H502.94" stroke="#808080" stroke-width="1.1"/>
<path d="M510.77 322.6H533.93" stroke="#808080" stroke-width="1.1"/>
<path d="M413 232.1V316.8H539.6" stroke="#111" stroke-width="1.1" fill="none"/>
<path d="M409 316.8H413" stroke="#111" stroke-width="1.1"/>
<text class="tk" font-size="9.08" x="408.4" y="319.97">0</text>
<path d="M409 288.73H413" stroke="#111" stroke-width="1.1"/>
<text class="tk" font-size="9.08" x="408.4" y="291.9">100</text>
<path d="M409 260.67H413" stroke="#111" stroke-width="1.1"/>
<text class="tk" font-size="9.08" x="408.4" y="263.84">200</text>
<path d="M409 232.6H413" stroke="#111" stroke-width="1.1"/>
<text class="tk" font-size="9.08" x="408.4" y="235.77">300</text>
<text class="sg" font-size="8.26" x="424.8" y="250.13" textLength="10.8">***</text>
<path d="M419.1 248.2H430.5" stroke="#333" stroke-width="0.65"/>
<text class="sg" font-size="8.26" x="438.55" y="249.83" textLength="10.9">***</text>
<path d="M432.8 247.8H444.3" stroke="#333" stroke-width="0.65"/>
<text class="sg" font-size="8.26" x="456.4" y="253.33" textLength="10.8">***</text>
<path d="M450.7 251.3H462.1" stroke="#333" stroke-width="0.65"/>
<text class="sg" font-size="8.26" x="470" y="252.43" textLength="10.8">***</text>
<path d="M464.3 250.4H475.7" stroke="#333" stroke-width="0.65"/>
<text class="sg" font-size="8.26" x="486.8" y="250.13" textLength="10.8">***</text>
<path d="M481.1 248.2H492.5" stroke="#333" stroke-width="0.65"/>
<text class="sg" font-size="8.26" x="500.55" y="249.83" textLength="10.9">***</text>
<path d="M494.8 248.1H506.3" stroke="#333" stroke-width="0.65"/>
<text class="sg" font-size="8.26" x="515.85" y="249.53" textLength="10.9">***</text>
<path d="M510.1 247.7H521.6" stroke="#333" stroke-width="0.65"/>
<text class="sg" font-size="8.26" x="529.45" y="249.53" textLength="10.9">***</text>
<path d="M523.7 247.7H535.2" stroke="#333" stroke-width="0.65"/>
<text class="yl" font-size="9.37" transform="translate(388.5 271.7) rotate(-90)" text-anchor="middle">Diastolic Diameter(microns)</text>
<text class="xl" font-size="9.45" transform="translate(434.1 331.8) rotate(-21.5)" text-anchor="end">W<tspan font-size="6.66" dy="-4.56">1118</tspan></text>
<text class="xl" font-size="9.45" transform="translate(467.1 334.1) rotate(-20.5)" text-anchor="end">W<tspan font-size="6.66" dy="-4.56">1118</tspan><tspan class="gt" font-size="14.15" dx="0.27" dy="5.76">&gt;</tspan><tspan dy="-1.2">dfoxo</tspan><tspan font-size="6.66" dy="-4.56">RNAi</tspan></text>
<text class="xl" font-size="9.45" transform="translate(500.8 331.2) rotate(-21.5)" text-anchor="end">W<tspan font-size="6.66" dy="-4.56">1118</tspan><tspan class="gt" font-size="14.15" dx="0.27" dy="5.76">&gt;</tspan><tspan dy="-1.2">dfoxo</tspan><tspan font-size="6.66" dy="-4.56">ov</tspan></text>
<text class="xl" font-size="9.45" transform="translate(533.7 334.4) rotate(-21)" text-anchor="end">W<tspan font-size="6.66" dy="-4.56">1118</tspan><tspan class="gt" font-size="14.15" dx="0.27" dy="5.76">&gt;</tspan><tspan dy="-1.2">dsrebp</tspan><tspan font-size="6.66" dy="-4.56">RNAi</tspan></text>
</g>
<g id="pG">
<text class="pl" x="23.9" y="380.8">G</text>
<rect x="47.2" y="441.6" width="6.7" height="51.6" fill="#2b2b2b"/>
<path d="M50.55 441.6V440.4M49.2 440.4H51.9" stroke="#3a3a3a" stroke-width="0.6" fill="none"/>
<path d="M50.35 493.2v3.3" stroke="#222" stroke-width="1.1"/>
<rect x="57.4" y="436.4" width="6.7" height="56.8" fill="#c00000"/>
<path d="M60.75 436.4V435.4M59.4 435.4H62.1" stroke="#d63434" stroke-width="0.6" fill="none"/>
<path d="M60.55 493.2v3.3" stroke="#222" stroke-width="1.1"/>
<rect x="67.6" y="438" width="6.7" height="55.2" fill="#0cc40c"/>
<path d="M70.95 438V437M69.6 437H72.3" stroke="#22cc22" stroke-width="0.6" fill="none"/>
<path d="M70.75 493.2v3.3" stroke="#222" stroke-width="1.1"/>
<rect x="77.8" y="433.4" width="6.7" height="59.8" fill="#2b2b2b"/>
<path d="M81.15 433.4V432.4M79.8 432.4H82.5" stroke="#3a3a3a" stroke-width="0.6" fill="none"/>
<path d="M80.95 493.2v3.3" stroke="#222" stroke-width="1.1"/>
<rect x="88" y="436" width="6.7" height="57.2" fill="#c00000"/>
<path d="M91.35 436V435M90 435H92.7" stroke="#d63434" stroke-width="0.6" fill="none"/>
<path d="M91.15 493.2v3.3" stroke="#222" stroke-width="1.1"/>
<rect x="98.2" y="435" width="6.7" height="58.2" fill="#0cc40c"/>
<path d="M101.55 435V434.2M100.2 434.2H102.9" stroke="#22cc22" stroke-width="0.6" fill="none"/>
<path d="M101.35 493.2v3.3" stroke="#222" stroke-width="1.1"/>
<rect x="108.4" y="436" width="6.7" height="57.2" fill="#2b2b2b"/>
<path d="M111.75 436V435M110.4 435H113.1" stroke="#3a3a3a" stroke-width="0.6" fill="none"/>
<path d="M111.55 493.2v3.3" stroke="#222" stroke-width="1.1"/>
<rect x="118.6" y="440" width="6.7" height="53.2" fill="#c00000"/>
<path d="M121.95 440V438.4M120.6 438.4H123.3" stroke="#d63434" stroke-width="0.6" fill="none"/>
<path d="M121.75 493.2v3.3" stroke="#222" stroke-width="1.1"/>
<rect x="128.8" y="442.6" width="6.7" height="50.6" fill="#0cc40c"/>
<path d="M132.15 442.6V441.6M130.8 441.6H133.5" stroke="#22cc22" stroke-width="0.6" fill="none"/>
<path d="M131.95 493.2v3.3" stroke="#222" stroke-width="1.1"/>
<rect x="139" y="440" width="6.7" height="53.2" fill="#2b2b2b"/>
<path d="M142.35 440V438.6M141 438.6H143.7" stroke="#3a3a3a" stroke-width="0.6" fill="none"/>
<path d="M142.15 493.2v3.3" stroke="#222" stroke-width="1.1"/>
<rect x="149.2" y="439" width="6.7" height="54.2" fill="#c00000"/>
<path d="M152.55 439V437.6M151.2 437.6H153.9" stroke="#d63434" stroke-width="0.6" fill="none"/>
<path d="M152.35 493.2v3.3" stroke="#222" stroke-width="1.1"/>
<rect x="159.4" y="437" width="6.7" height="56.2" fill="#0cc40c"/>
<path d="M162.75 437V435.4M161.4 435.4H164.1" stroke="#22cc22" stroke-width="0.6" fill="none"/>
<path d="M162.55 493.2v3.3" stroke="#222" stroke-width="1.1"/>
<path d="M48.55 499H71.45" stroke="#808080" stroke-width="1.1"/>
<path d="M79.15 499H102.05" stroke="#808080" stroke-width="1.1"/>
<path d="M109.75 499H132.65" stroke="#808080" stroke-width="1.1"/>
<path d="M140.35 499H163.25" stroke="#808080" stroke-width="1.1"/>
<path d="M43.6 408.9V493.2H169.4" stroke="#111" stroke-width="1.1" fill="none"/>
<path d="M39.6 493.2H43.6" stroke="#111" stroke-width="1.1"/>
<text class="tk" font-size="8.97" x="39" y="496.33">0</text>
<path d="M39.6 472.25H43.6" stroke="#111" stroke-width="1.1"/>
<text class="tk" font-size="8.97" x="39" y="475.38">50</text>
<path d="M39.6 451.3H43.6" stroke="#111" stroke-width="1.1"/>
<text class="tk" font-size="8.97" x="39" y="454.43">100</text>
<path d="M39.6 430.35H43.6" stroke="#111" stroke-width="1.1"/>
<text class="tk" font-size="8.97" x="39" y="433.48">150</text>
<path d="M39.6 409.4H43.6" stroke="#111" stroke-width="1.1"/>
<text class="tk" font-size="8.97" x="39" y="412.53">200</text>
<text class="yl" font-size="9.25" transform="translate(18.8 449.4) rotate(-90)" text-anchor="middle">Systolic Diameter(microns)</text>
<text class="xl" font-size="9.33" transform="translate(64.9 508.4) rotate(-21)" text-anchor="end">W<tspan font-size="6.58" dy="-4.51">1118</tspan></text>
<text class="xl" font-size="9.33" transform="translate(97 510.2) rotate(-21)" text-anchor="end">W<tspan font-size="6.58" dy="-4.51">1118</tspan><tspan class="gt" font-size="13.97" dx="0.27" dy="5.71">&gt;</tspan><tspan dy="-1.2">dfoxo</tspan><tspan font-size="6.58" dy="-4.51">RNAi</tspan></text>
<text class="xl" font-size="9.33" transform="translate(130.9 508.3) rotate(-21)" text-anchor="end">W<tspan font-size="6.58" dy="-4.51">1118</tspan><tspan class="gt" font-size="13.97" dx="0.27" dy="5.71">&gt;</tspan><tspan dy="-1.2">dfoxo</tspan><tspan font-size="6.58" dy="-4.51">ov</tspan></text>
<text class="xl" font-size="9.33" transform="translate(163 511.2) rotate(-20.5)" text-anchor="end">W<tspan font-size="6.58" dy="-4.51">1118</tspan><tspan class="gt" font-size="13.97" dx="0.27" dy="5.71">&gt;</tspan><tspan dy="-1.2">dsrebp</tspan><tspan font-size="6.58" dy="-4.51">RNAi</tspan></text>
</g>
<g id="pH">
<text class="pl" x="197.9" y="385.3">H</text>
<rect x="227.2" y="441.4" width="6.8" height="62.2" fill="#2b2b2b"/>
<path d="M230.6 441.4V440.6M229.25 440.6H231.95" stroke="#3a3a3a" stroke-width="0.6" fill="none"/>
<path d="M230.4 503.6v3.3" stroke="#222" stroke-width="1.1"/>
<rect x="237.65" y="454" width="6.8" height="49.6" fill="#c00000"/>
<path d="M241.05 454V453M239.7 453H242.4" stroke="#d63434" stroke-width="0.6" fill="none"/>
<path d="M240.85 503.6v3.3" stroke="#222" stroke-width="1.1"/>
<rect x="248.1" y="440.2" width="6.8" height="63.4" fill="#0cc40c"/>
<path d="M251.5 440.2V439M250.15 439H252.85" stroke="#22cc22" stroke-width="0.6" fill="none"/>
<path d="M251.3 503.6v3.3" stroke="#222" stroke-width="1.1"/>
<rect x="258.55" y="439" width="6.8" height="64.6" fill="#2b2b2b"/>
<path d="M261.95 439V436.6M260.6 436.6H263.3" stroke="#3a3a3a" stroke-width="0.6" fill="none"/>
<path d="M261.75 503.6v3.3" stroke="#222" stroke-width="1.1"/>
<rect x="269" y="453.8" width="6.8" height="49.8" fill="#c00000"/>
<path d="M272.4 453.8V452.6M271.05 452.6H273.75" stroke="#d63434" stroke-width="0.6" fill="none"/>
<path d="M272.2 503.6v3.3" stroke="#222" stroke-width="1.1"/>
<rect x="279.45" y="439.4" width="6.8" height="64.2" fill="#0cc40c"/>
<path d="M282.85 439.4V438.4M281.5 438.4H284.2" stroke="#22cc22" stroke-width="0.6" fill="none"/>
<path d="M282.65 503.6v3.3" stroke="#222" stroke-width="1.1"/>
<rect x="289.9" y="439" width="6.8" height="64.6" fill="#2b2b2b"/>
<path d="M293.3 439V436.6M291.95 436.6H294.65" stroke="#3a3a3a" stroke-width="0.6" fill="none"/>
<path d="M293.1 503.6v3.3" stroke="#222" stroke-width="1.1"/>
<rect x="300.35" y="453.6" width="6.8" height="50" fill="#c00000"/>
<path d="M303.75 453.6V451.6M302.4 451.6H305.1" stroke="#d63434" stroke-width="0.6" fill="none"/>
<path d="M303.55 503.6v3.3" stroke="#222" stroke-width="1.1"/>
<rect x="310.8" y="442.4" width="6.8" height="61.2" fill="#0cc40c"/>
<path d="M314.2 442.4V440.6M312.85 440.6H315.55" stroke="#22cc22" stroke-width="0.6" fill="none"/>
<path d="M314 503.6v3.3" stroke="#222" stroke-width="1.1"/>
<rect x="321.25" y="439.4" width="6.8" height="64.2" fill="#2b2b2b"/>
<path d="M324.65 439.4V437.4M323.3 437.4H326" stroke="#3a3a3a" stroke-width="0.6" fill="none"/>
<path d="M324.45 503.6v3.3" stroke="#222" stroke-width="1.1"/>
<rect x="331.7" y="454.2" width="6.8" height="49.4" fill="#c00000"/>
<path d="M335.1 454.2V452.4M333.75 452.4H336.45" stroke="#d63434" stroke-width="0.6" fill="none"/>
<path d="M334.9 503.6v3.3" stroke="#222" stroke-width="1.1"/>
<rect x="342.15" y="438" width="6.8" height="65.6" fill="#0cc40c"/>
<path d="M345.55 438V436.6M344.2 436.6H346.9" stroke="#22cc22" stroke-width="0.6" fill="none"/>
<path d="M345.35 503.6v3.3" stroke="#222" stroke-width="1.1"/>
<path d="M228.6 509.4H252" stroke="#808080" stroke-width="1.1"/>
<path d="M259.95 509.4H283.35" stroke="#808080" stroke-width="1.1"/>
<path d="M291.3 509.4H314.7" stroke="#808080" stroke-width="1.1"/>
<path d="M322.65 509.4H346.05" stroke="#808080" stroke-width="1.1"/>
<path d="M223 417.9V503.6H352.4" stroke="#111" stroke-width="1.1" fill="none"/>
<path d="M219 503.6H223" stroke="#111" stroke-width="1.1"/>
<text class="tk" font-size="9.19" x="218.4" y="506.81">0.0</text>
<path d="M219 475.2H223" stroke="#111" stroke-width="1.1"/>
<text class="tk" font-size="9.19" x="218.4" y="478.41">0.2</text>
<path d="M219 446.8H223" stroke="#111" stroke-width="1.1"/>
<text class="tk" font-size="9.19" x="218.4" y="450.01">0.4</text>
<path d="M219 418.4H223" stroke="#111" stroke-width="1.1"/>
<text class="tk" font-size="9.19" x="218.4" y="421.61">0.6</text>
<text class="sg" font-size="8.36" x="235.65" y="427.38" textLength="11.1">***</text>
<path d="M229.8 425.2H241.5" stroke="#333" stroke-width="0.65"/>
<text class="sg" font-size="8.36" x="249.8" y="424.78" textLength="10.8">***</text>
<path d="M244.1 423.1H255.5" stroke="#333" stroke-width="0.65"/>
<text class="sg" font-size="8.36" x="266.35" y="424.58" textLength="11.3">***</text>
<path d="M260.4 422.7H272.3" stroke="#333" stroke-width="0.65"/>
<text class="sg" font-size="8.36" x="280.8" y="421.98" textLength="11.2">***</text>
<path d="M274.9 420.4H286.7" stroke="#333" stroke-width="0.65"/>
<text class="sg" font-size="8.36" x="297.85" y="424.78" textLength="11.5">***</text>
<path d="M291.8 422.7H303.9" stroke="#333" stroke-width="0.65"/>
<text class="sg" font-size="8.36" x="311.85" y="422.68" textLength="10.7">***</text>
<path d="M306.2 421.2H317.5" stroke="#333" stroke-width="0.65"/>
<text class="sg" font-size="8.36" x="328.55" y="425.18" textLength="11.3">***</text>
<path d="M322.6 423.1H334.5" stroke="#333" stroke-width="0.65"/>
<text class="sg" font-size="8.36" x="342.55" y="422.98" textLength="10.5">***</text>
<path d="M337 421.5H348.1" stroke="#333" stroke-width="0.65"/>
<text class="yl" font-size="9.2" transform="translate(200.9 457.4) rotate(-90)" text-anchor="middle">(%)Fractional Shortening</text>
<text class="xl" font-size="9.56" transform="translate(245 519) rotate(-20.5)" text-anchor="end">W<tspan font-size="6.74" dy="-4.62">1118</tspan></text>
<text class="xl" font-size="9.56" transform="translate(278.1 520.9) rotate(-20.5)" text-anchor="end">W<tspan font-size="6.74" dy="-4.62">1118</tspan><tspan class="gt" font-size="14.31" dx="0.28" dy="5.82">&gt;</tspan><tspan dy="-1.2">dfoxo</tspan><tspan font-size="6.74" dy="-4.62">RNAi</tspan></text>
<text class="xl" font-size="9.56" transform="translate(312.3 518.5) rotate(-21)" text-anchor="end">W<tspan font-size="6.74" dy="-4.62">1118</tspan><tspan class="gt" font-size="14.31" dx="0.28" dy="5.82">&gt;</tspan><tspan dy="-1.2">dfoxo</tspan><tspan font-size="6.74" dy="-4.62">ov</tspan></text>
<text class="xl" font-size="9.56" transform="translate(345.5 521.6) rotate(-20.5)" text-anchor="end">W<tspan font-size="6.74" dy="-4.62">1118</tspan><tspan class="gt" font-size="14.31" dx="0.28" dy="5.82">&gt;</tspan><tspan dy="-1.2">dsrebp</tspan><tspan font-size="6.74" dy="-4.62">RNAi</tspan></text>
</g>
<g id="pI">
<text class="pl" x="382" y="388.1">I</text>
<rect x="410.2" y="464.4" width="7.4" height="39" fill="#2b2b2b"/>
<path d="M413.9 464.4V462.6M412.55 462.6H415.25" stroke="#3a3a3a" stroke-width="0.6" fill="none"/>
<path d="M413.7 503.4v3.3" stroke="#222" stroke-width="1.1"/>
<rect x="421.32" y="435.4" width="7.4" height="68" fill="#c00000"/>
<path d="M425.02 435.4V433.6M423.67 433.6H426.37" stroke="#d63434" stroke-width="0.6" fill="none"/>
<path d="M424.82 503.4v3.3" stroke="#222" stroke-width="1.1"/>
<rect x="432.44" y="463.6" width="7.4" height="39.8" fill="#0cc40c"/>
<path d="M436.14 463.6V461.6M434.79 461.6H437.49" stroke="#22cc22" stroke-width="0.6" fill="none"/>
<path d="M435.94 503.4v3.3" stroke="#222" stroke-width="1.1"/>
<rect x="443.56" y="459.4" width="7.4" height="44" fill="#2b2b2b"/>
<path d="M447.26 459.4V458M445.91 458H448.61" stroke="#3a3a3a" stroke-width="0.6" fill="none"/>
<path d="M447.06 503.4v3.3" stroke="#222" stroke-width="1.1"/>
<rect x="454.68" y="440" width="7.4" height="63.4" fill="#c00000"/>
<path d="M458.38 440V438M457.03 438H459.73" stroke="#d63434" stroke-width="0.6" fill="none"/>
<path d="M458.18 503.4v3.3" stroke="#222" stroke-width="1.1"/>
<rect x="465.8" y="454.4" width="7.4" height="49" fill="#0cc40c"/>
<path d="M469.5 454.4V449.4M468.15 449.4H470.85" stroke="#22cc22" stroke-width="0.6" fill="none"/>
<path d="M469.3 503.4v3.3" stroke="#222" stroke-width="1.1"/>
<rect x="476.92" y="459.4" width="7.4" height="44" fill="#2b2b2b"/>
<path d="M480.62 459.4V458M479.27 458H481.97" stroke="#3a3a3a" stroke-width="0.6" fill="none"/>
<path d="M480.42 503.4v3.3" stroke="#222" stroke-width="1.1"/>
<rect x="488.04" y="438.4" width="7.4" height="65" fill="#c00000"/>
<path d="M491.74 438.4V436.6M490.39 436.6H493.09" stroke="#d63434" stroke-width="0.6" fill="none"/>
<path d="M491.54 503.4v3.3" stroke="#222" stroke-width="1.1"/>
<rect x="499.16" y="457.4" width="7.4" height="46" fill="#0cc40c"/>
<path d="M502.86 457.4V455.6M501.51 455.6H504.21" stroke="#22cc22" stroke-width="0.6" fill="none"/>
<path d="M502.66 503.4v3.3" stroke="#222" stroke-width="1.1"/>
<rect x="510.28" y="457.6" width="7.4" height="45.8" fill="#2b2b2b"/>
<path d="M513.98 457.6V456.4M512.63 456.4H515.33" stroke="#3a3a3a" stroke-width="0.6" fill="none"/>
<path d="M513.78 503.4v3.3" stroke="#222" stroke-width="1.1"/>
<rect x="521.4" y="437.4" width="7.4" height="66" fill="#c00000"/>
<path d="M525.1 437.4V435.6M523.75 435.6H526.45" stroke="#d63434" stroke-width="0.6" fill="none"/>
<path d="M524.9 503.4v3.3" stroke="#222" stroke-width="1.1"/>
<rect x="532.52" y="456" width="7.4" height="47.4" fill="#0cc40c"/>
<path d="M536.22 456V454.6M534.87 454.6H537.57" stroke="#22cc22" stroke-width="0.6" fill="none"/>
<path d="M536.02 503.4v3.3" stroke="#222" stroke-width="1.1"/>
<path d="M411.9 509.2H436.64" stroke="#808080" stroke-width="1.1"/>
<path d="M445.26 509.2H470" stroke="#808080" stroke-width="1.1"/>
<path d="M478.62 509.2H503.36" stroke="#808080" stroke-width="1.1"/>
<path d="M511.98 509.2H536.72" stroke="#808080" stroke-width="1.1"/>
<path d="M406.6 412.9V503.4H544" stroke="#111" stroke-width="1.1" fill="none"/>
<path d="M402.6 503.4H406.6" stroke="#111" stroke-width="1.1"/>
<text class="tk" font-size="9.78" x="402" y="506.81">0.0</text>
<path d="M402.6 485.4H406.6" stroke="#111" stroke-width="1.1"/>
<text class="tk" font-size="9.78" x="402" y="488.81">0.2</text>
<path d="M402.6 467.4H406.6" stroke="#111" stroke-width="1.1"/>
<text class="tk" font-size="9.78" x="402" y="470.81">0.4</text>
<path d="M402.6 449.4H406.6" stroke="#111" stroke-width="1.1"/>
<text class="tk" font-size="9.78" x="402" y="452.81">0.6</text>
<path d="M402.6 431.4H406.6" stroke="#111" stroke-width="1.1"/>
<text class="tk" font-size="9.78" x="402" y="434.81">0.8</text>
<path d="M402.6 413.4H406.6" stroke="#111" stroke-width="1.1"/>
<text class="tk" font-size="9.78" x="402" y="416.81">1.0</text>
<text class="sg" font-size="8.9" x="418.3" y="432.55" textLength="11.8">***</text>
<path d="M412.1 430.7H424.5" stroke="#333" stroke-width="0.65"/>
<text class="sg" font-size="8.9" x="433.15" y="431.95" textLength="11.5">***</text>
<path d="M427.1 430.3H439.2" stroke="#333" stroke-width="0.65"/>
<text class="sg" font-size="8.9" x="451.55" y="435.45" textLength="11.5">***</text>
<path d="M445.5 433.7H457.6" stroke="#333" stroke-width="0.65"/>
<text class="sg" font-size="8.9" x="467.35" y="435.15" textLength="11.7">***</text>
<path d="M461.2 433.3H473.5" stroke="#333" stroke-width="0.65"/>
<text class="sg" font-size="8.9" x="484.05" y="435.45" textLength="11.9">***</text>
<path d="M477.8 433.7H490.3" stroke="#333" stroke-width="0.65"/>
<text class="sg" font-size="8.9" x="499" y="434.85" textLength="11.8">***</text>
<path d="M492.8 433H505.2" stroke="#333" stroke-width="0.65"/>
<text class="sg" font-size="8.9" x="519.15" y="433.25" textLength="12.1">***</text>
<path d="M512.8 431.1H525.5" stroke="#333" stroke-width="0.65"/>
<text class="sg" font-size="8.9" x="534.65" y="432.35" textLength="11.7">***</text>
<path d="M528.5 430.7H540.8" stroke="#333" stroke-width="0.65"/>
<text class="yl" font-size="10.09" transform="translate(382.3 456.7) rotate(-90)" text-anchor="middle">Fibrillations</text>
<text class="xl" font-size="10.17" transform="translate(429.3 520.1) rotate(-20.5)" text-anchor="end">W<tspan font-size="7.17" dy="-4.91">1118</tspan></text>
<text class="xl" font-size="10.17" transform="translate(464.7 522.7) rotate(-20)" text-anchor="end">W<tspan font-size="7.17" dy="-4.91">1118</tspan><tspan class="gt" font-size="15.23" dx="0.29" dy="6.11">&gt;</tspan><tspan dy="-1.2">dfoxo</tspan><tspan font-size="7.17" dy="-4.91">RNAi</tspan></text>
<text class="xl" font-size="10.17" transform="translate(501.6 519.4) rotate(-21.5)" text-anchor="end">W<tspan font-size="7.17" dy="-4.91">1118</tspan><tspan class="gt" font-size="15.23" dx="0.29" dy="6.11">&gt;</tspan><tspan dy="-1.2">dfoxo</tspan><tspan font-size="7.17" dy="-4.91">ov</tspan></text>
<text class="xl" font-size="10.17" transform="translate(536.6 522.5) rotate(-21)" text-anchor="end">W<tspan font-size="7.17" dy="-4.91">1118</tspan><tspan class="gt" font-size="15.23" dx="0.29" dy="6.11">&gt;</tspan><tspan dy="-1.2">dsrebp</tspan><tspan font-size="7.17" dy="-4.91">RNAi</tspan></text>
</g>
</svg>
</body></html>
